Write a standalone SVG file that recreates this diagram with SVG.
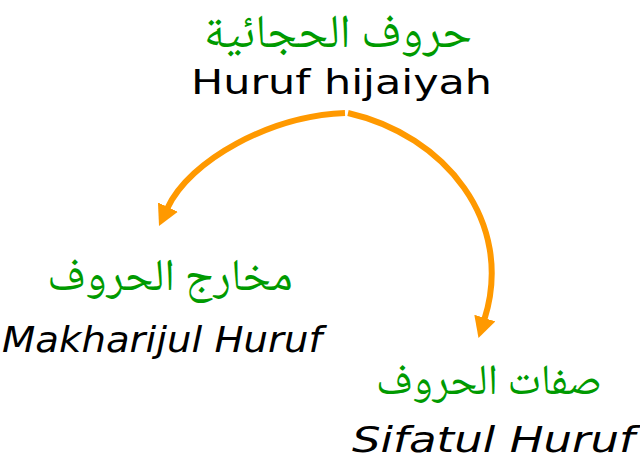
<svg xmlns="http://www.w3.org/2000/svg" width="640" height="460" viewBox="0 0 640 460">
  <style>
    .ar { font-family: "Noto Naskh Arabic", "Noto Sans Arabic", "DejaVu Sans", sans-serif; fill: #009a00; text-anchor: middle; }
    .en { font-family: "DejaVu Sans", Verdana, sans-serif; fill: #000000; }
    .it { font-style: italic; }
    .conn { fill: none; stroke: #ff9900; stroke-width: 6; stroke-linecap: butt; marker-end: url(#arrow); }
  </style>
  <defs>
    <marker id="arrow" viewBox="0 0 21 22" refX="1" refY="11" markerWidth="21" markerHeight="22" markerUnits="userSpaceOnUse" orient="auto">
      <path d="M0,0 L21,11 L0,22 Z" fill="#ff9900"/>
    </marker>
  </defs>
  <rect width="640" height="460" fill="#ffffff"/>
  <g id="connectors">
    <path class="conn" d="M345,113 C270,116 190,160 167.5,208"/>
    <path class="conn" d="M348,113 C445,135 515,222 484.5,319"/>
  </g>
  <g id="node-hijaiyah">
    <text class="ar" x="338" y="47" font-size="47">حروف الحجائية</text>
    <text class="en" x="191" y="94" font-size="33" textLength="301" lengthAdjust="spacingAndGlyphs">Huruf hijaiyah</text>
  </g>
  <g id="node-makharij">
    <text class="ar" x="170" y="290" font-size="45">مخارج الحروف</text>
    <text class="en it" x="2" y="352" font-size="36" textLength="320" lengthAdjust="spacingAndGlyphs">Makharijul Huruf</text>
  </g>
  <g id="node-sifat">
    <text class="ar" x="489" y="394" font-size="43">صفات الحروف</text>
    <text class="en it" x="352" y="452" font-size="36" textLength="283" lengthAdjust="spacingAndGlyphs">Sifatul Huruf</text>
  </g>
</svg>
